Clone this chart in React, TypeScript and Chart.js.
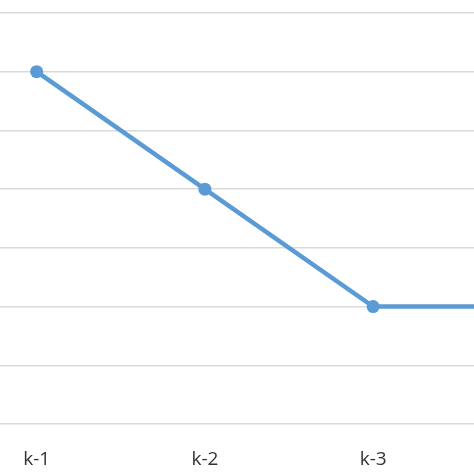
import React, { useEffect, useRef } from "react";
import { Chart, registerables } from "chart.js";

Chart.register(...registerables);

const categories = ["k-1", "k-2", "k-3", "k-4"];
const seriesValues = [6, 4, 2, 2];
const yMin = 0;
const yMax = 7;
const yStep = 1;

export default function App() {
  const canvasRef = useRef<HTMLCanvasElement | null>(null);

  useEffect(() => {
    if (!canvasRef.current) return;
    const chart = new Chart(canvasRef.current, {
      type: "line",
      data: {
        labels: categories,
        datasets: [
          {
            data: seriesValues,
            borderColor: "#5B9BD5",
            backgroundColor: "#5B9BD5",
            borderWidth: 4.5,
            pointRadius: 6.5,
            pointBorderWidth: 0,
            pointBackgroundColor: "#5B9BD5",
            tension: 0,
          },
        ],
      },
      options: {
        animation: false,
        responsive: false,
        maintainAspectRatio: false,
        layout: { padding: { top: 13, left: 0, right: 0, bottom: 0 } },
        plugins: { legend: { display: false }, tooltip: { enabled: false } },
        scales: {
          x: {
            type: "category",
            offset: true,
            grid: { display: false, drawTicks: false },
            border: { display: false },
            ticks: {
              color: "#333333",
              padding: 24,
              font: { family: "Open Sans", size: 19 },
            },
            afterFit: (scale: any) => {
              scale.height = 50;
            },
          },
          y: {
            min: yMin,
            max: yMax,
            ticks: { display: false, stepSize: yStep },
            grid: { color: "#d9d9d9", lineWidth: 1.5, drawTicks: false },
            border: { display: false },
            afterFit: (scale: any) => {
              scale.width = 0;
            },
          },
        },
      },
    });
    return () => chart.destroy();
  }, []);

  return (
    <div
      style={{
        position: "fixed",
        left: 0,
        top: 0,
        width: 474,
        height: 474,
        overflow: "hidden",
        background: "#ffffff",
      }}
    >
      <canvas
        ref={canvasRef}
        width={686}
        height={474}
        style={{ position: "absolute", left: -54, top: 0, width: 686, height: 474 }}
      />
    </div>
  );
}
